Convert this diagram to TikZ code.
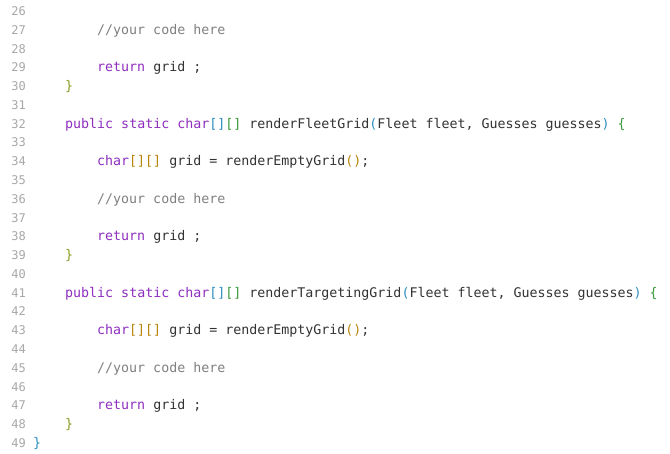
\documentclass[tikz,border=0pt]{standalone}
\usepackage{fontspec}
\setmonofont{DejaVu Sans Mono}
\definecolor{kw}{HTML}{8E2FBF}
\definecolor{tx}{HTML}{333333}
\definecolor{cm}{HTML}{808080}
\definecolor{ln}{HTML}{A8A8A8}
\definecolor{bA}{HTML}{2E8FC0}
\definecolor{bB}{HTML}{3C9A3C}
\definecolor{bC}{HTML}{B8860B}
\definecolor{bD}{HTML}{8A9A20}
\newcommand{\K}[1]{\textcolor{kw}{#1}}
\newcommand{\A}[1]{\textcolor{bA}{#1}}
\newcommand{\B}[1]{\textcolor{bB}{#1}}
\newcommand{\C}[1]{\textcolor{bC}{#1}}
\newcommand{\D}[1]{\textcolor{bD}{#1}}
\begin{document}
\begin{tikzpicture}[x=1pt,y=-1pt,
  code/.style={anchor=base west,inner sep=0pt,font=\fontsize{13.3}{15}\ttfamily,text=tx},
  num/.style={anchor=base east,inner sep=0pt,font=\fontsize{12}{14}\ttfamily,text=ln}]
\useasboundingbox[fill=white] (0,0) rectangle (670,453);
\foreach \n in {26,...,49}{
  \pgfmathsetmacro{\yy}{11+(\n-26)*18.78+4.5}
  \node[num] (n\n) at (26,\yy) {\n};
}
\newcommand{\Y}[1]{11+(#1-26)*18.78+4.5}
\node[code] (l27) at (97,{\Y{27}}) {\textcolor{cm}{//your code here}};
\node[code] (l29) at (97,{\Y{29}}) {\K{return} grid ;};
\node[code] (l30) at (65,{\Y{30}}) {\D{\}}};
\node[code] (l32) at (65,{\Y{32}}) {\K{public static char}\A{[]}\B{[]} renderFleetGrid\A{(}Fleet fleet, Guesses guesses\A{)} \B{\{}};
\node[code] (l34) at (97,{\Y{34}}) {\K{char}\C{[][]} grid = renderEmptyGrid\C{()};};
\node[code] (l36) at (97,{\Y{36}}) {\textcolor{cm}{//your code here}};
\node[code] (l38) at (97,{\Y{38}}) {\K{return} grid ;};
\node[code] (l39) at (65,{\Y{39}}) {\D{\}}};
\node[code] (l41) at (65,{\Y{41}}) {\K{public static char}\A{[]}\B{[]} renderTargetingGrid\A{(}Fleet fleet, Guesses guesses\A{)} \B{\{}};
\node[code] (l43) at (97,{\Y{43}}) {\K{char}\C{[][]} grid = renderEmptyGrid\C{()};};
\node[code] (l45) at (97,{\Y{45}}) {\textcolor{cm}{//your code here}};
\node[code] (l47) at (97,{\Y{47}}) {\K{return} grid ;};
\node[code] (l48) at (65,{\Y{48}}) {\D{\}}};
\node[code] (l49) at (33,{\Y{49}}) {\A{\}}};
\end{tikzpicture}
\end{document}
